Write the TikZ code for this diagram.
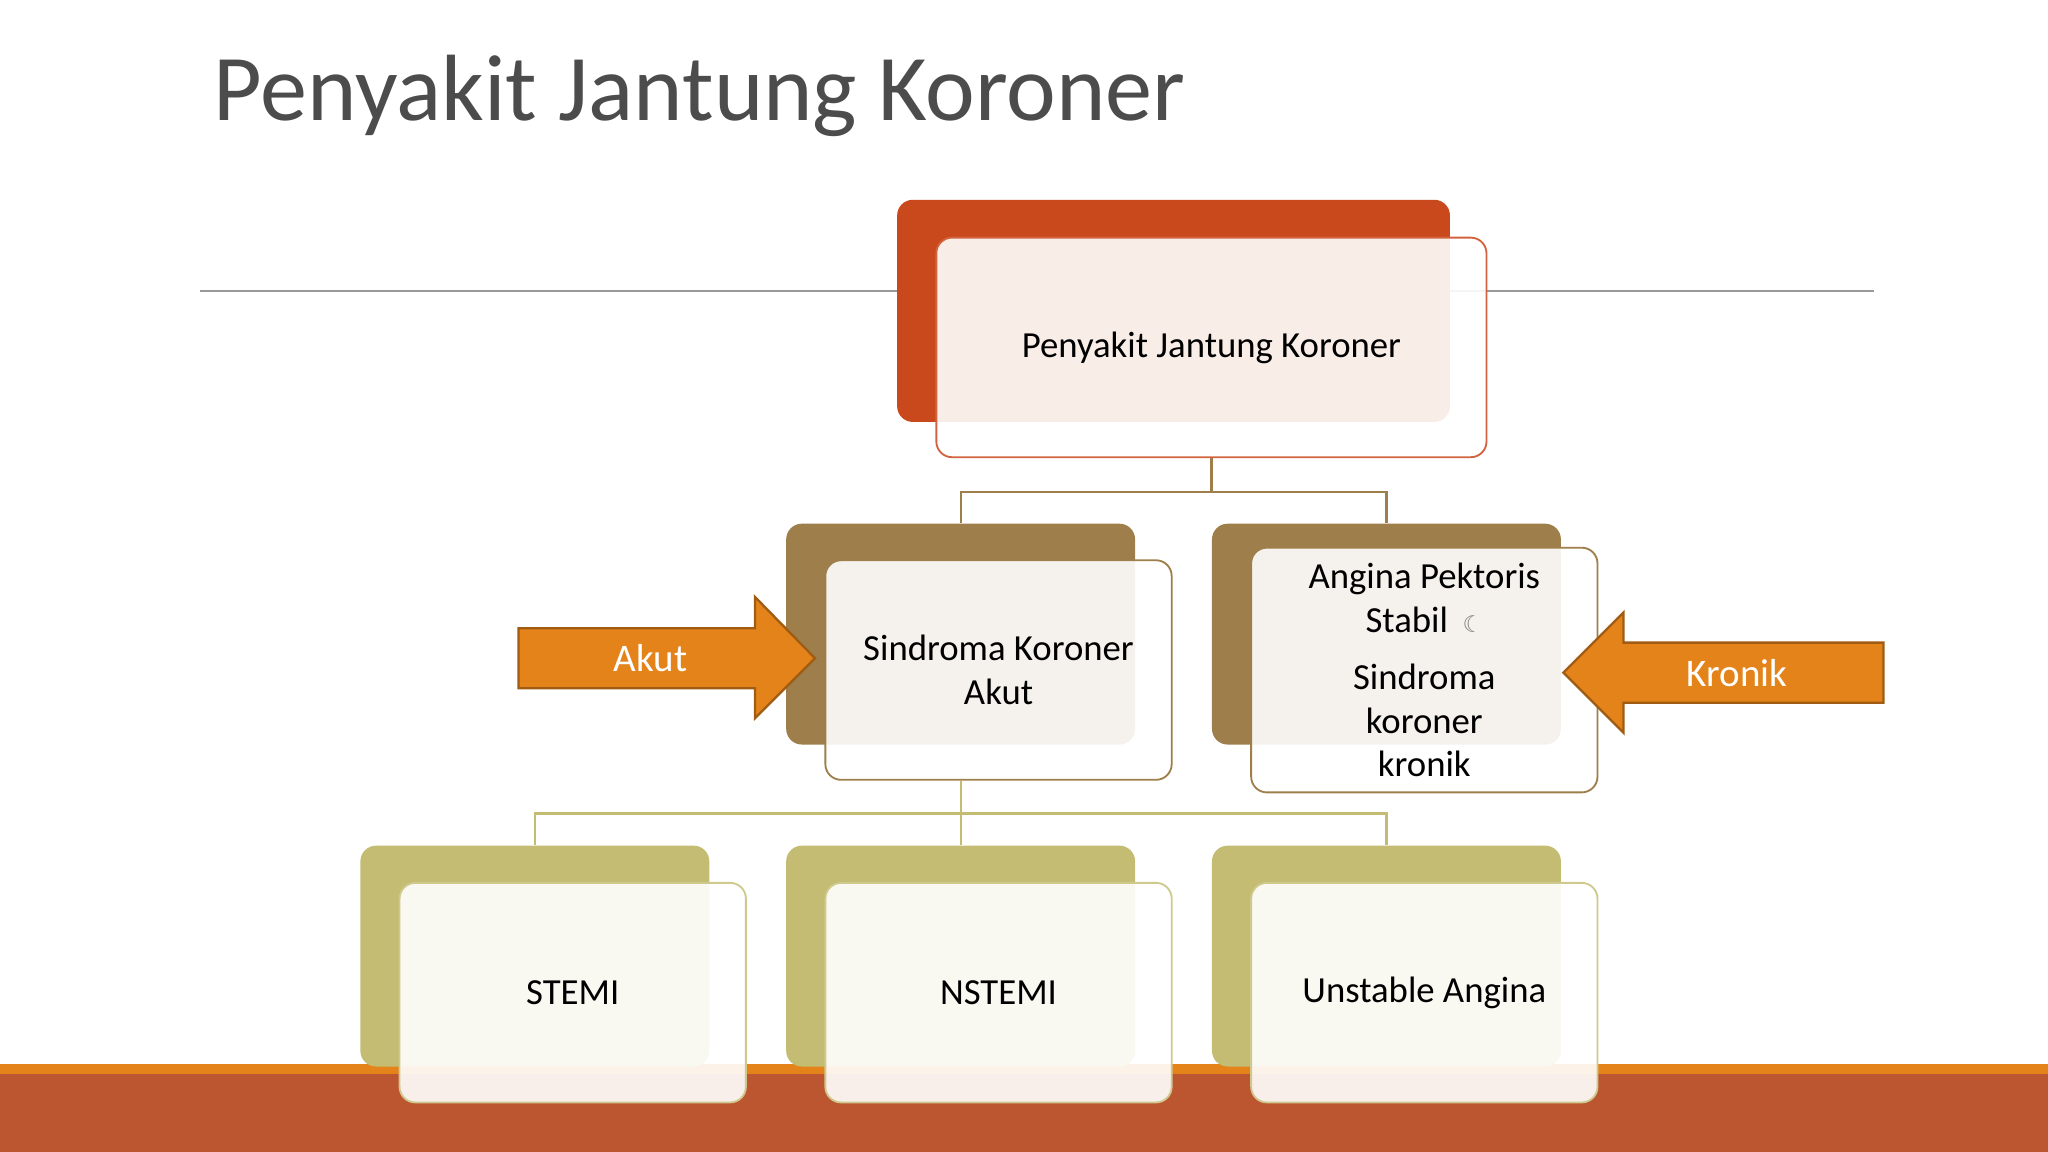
\documentclass[tikz,border=0pt]{standalone}
\usepackage{fontspec}
\setmainfont{Carlito}
\newfontfamily\symfont{DejaVu Sans}
\begin{document}
\definecolor{rust}{HTML}{C9491C}
\definecolor{brownbox}{HTML}{9E7E4A}
\definecolor{olivebox}{HTML}{C3BC72}
\definecolor{arroworange}{HTML}{E3831A}
\definecolor{barrust}{HTML}{BB5630}
\begin{tikzpicture}[x=0.01cm, y=-0.01cm,
    backbox/.style={rectangle, rounded corners=0.12cm, minimum width=2.67cm, minimum height=1.69cm},
    frontbox/.style={rectangle, rounded corners=0.12cm, fill=white, fill opacity=0.9, text opacity=1,
        minimum width=2.65cm, minimum height=1.68cm, align=center, font=\fontsize{8}{9.5}\selectfont},
    link/.style={line width=0.5pt}
]
\useasboundingbox (0,0) rectangle (1568,882);

% bottom band
\fill[barrust] (0,822) rectangle (1568,882);
\fill[arroworange] (0,815) rectangle (1568,822);

% title and rule
\node[anchor=base west, inner sep=0, text=black!70, font=\fontsize{20.5}{24}\selectfont] (title) at (163,92) {Penyakit Jantung Koroner};
\draw[black!40, line width=0.4pt] (153,223) -- (1435,223);

% === top level ===
\node[backbox, fill=rust, minimum width=4.23cm, minimum height=1.70cm] (pjkb) at (898.5,238) {};
\node[frontbox, draw=rust!85, minimum width=4.21cm] (pjk) at (927.5,266) {Penyakit Jantung Koroner};

% === middle level ===
\node[backbox, fill=brownbox] (skab) at (735.5,485.5) {};
\node[backbox, fill=brownbox] (apsb) at (1061.5,485.5) {};
\node[frontbox, draw=brownbox] (ska) at (764.5,513) {Sindroma Koroner\\Akut};
\node[frontbox, draw=brownbox] (aps) at (1090.5,513) {Angina Pektoris\\Stabil \,{\symfont\fontsize{5}{6}\selectfont\color{black!50}☾}\\[3pt]Sindroma\\koroner\\kronik};

\draw[link, brownbox] (pjk.south) -- ++(0,26) -| (skab.north);
\draw[link, brownbox] (pjk.south) ++(0,26) -| (apsb.north);

% === bottom level ===
\node[backbox, fill=olivebox] (stemib) at (409.5,732) {};
\node[backbox, fill=olivebox] (nstemib) at (735.5,732) {};
\node[backbox, fill=olivebox] (uab) at (1061.5,732) {};
\node[frontbox, draw=olivebox!80] (stemi) at (438.5,760) {STEMI};
\node[frontbox, draw=olivebox!80] (nstemi) at (764.5,760) {NSTEMI};
\node[frontbox, draw=olivebox!80] (ua) at (1090.5,760) {Unstable Angina};

\draw[link, olivebox] (skab.south |- ska.south) -- ++(0,25) -| (stemib.north);
\draw[link, olivebox] (skab.south |- ska.south) -- (nstemib.north);
\draw[link, olivebox] (skab.south |- ska.south) ++(0,25) -| (uab.north);

% arrows
\draw[fill=arroworange, draw=arroworange!70!black, line width=0.5pt]
    (397,481) -- (578,481) -- (578,457) -- (624,504) -- (578,550) -- (578,527) -- (397,527) -- cycle;
\node[text=white, font=\fontsize{8.5}{10}\selectfont] (akut) at (498,504) {Akut};
\draw[fill=arroworange, draw=arroworange!70!black, line width=0.5pt]
    (1442,492) -- (1243,492) -- (1243,469) -- (1197,515) -- (1243,561) -- (1243,538) -- (1442,538) -- cycle;
\node[text=white, font=\fontsize{8.5}{10}\selectfont] (kronik) at (1330,515) {Kronik};
\end{tikzpicture}
\end{document}
